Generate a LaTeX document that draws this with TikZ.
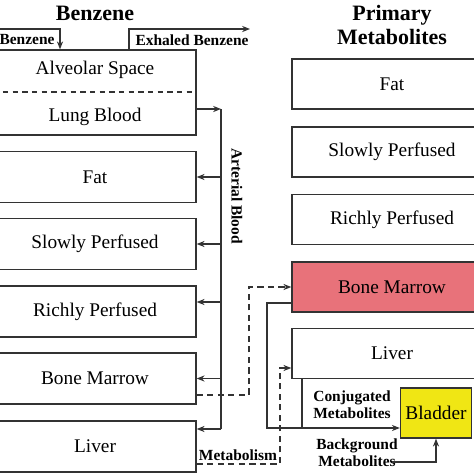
\documentclass[tikz,border=0pt]{standalone}
\usepackage{fontspec}
\setmainfont{Liberation Serif}
\usetikzlibrary{arrows.meta}
\definecolor{marrowpink}{RGB}{232,114,122}
\definecolor{bladderyellow}{RGB}{240,230,20}
\tikzset{
  wire/.style={draw=black!80, line width=0.7pt},
  flow/.style={wire, -{Stealth[length=4.5pt,width=3.5pt]}},
  dflow/.style={flow, dash pattern=on 3.5pt off 2.5pt},
  organ/.style={draw=black!80, line width=0.8pt, inner sep=0pt,
    minimum width=4.04cm, minimum height=1.02cm, font=\fontsize{11}{13}\selectfont},
  pmorgan/.style={organ, minimum width=4cm, minimum height=1cm},
  tag/.style={font=\bfseries\fontsize{8.8}{9.6}\selectfont, inner sep=0pt, align=center},
  heading/.style={font=\bfseries\fontsize{12.5}{13.5}\selectfont, inner sep=0pt, align=center}
}
\begin{document}
\begin{tikzpicture}[x=0.02cm,y=-0.02cm]
    \clip (0,0) rectangle (474,474);
    % titles
    \node[heading] (tBenz) at (95,13) {Benzene};
    \node[heading] (tPrim) at (392,25) {Primary\\Metabolites};
    % benzene side
    \node[organ, minimum height=1.7cm] (lung) at (95,92.5) {};
    \node[font=\fontsize{11}{13}\selectfont] (alvT) at (95,70) {Alveolar Space};
    \node[font=\fontsize{11}{13}\selectfont] (lungT) at (95,117) {Lung Blood};
    \node[organ] (fatL) at (95,177) {Fat};
    \node[organ] (slowL) at (95,244) {Slowly Perfused};
    \node[organ] (richL) at (95,311.5) {Richly Perfused};
    \node[organ] (boneL) at (95,378.5) {Bone Marrow};
    \node[organ] (livL) at (95,446.5) {Liver};
    \draw[wire, dash pattern=on 3pt off 2.5pt] (lung.west |- 0,92) -- (lung.east |- 0,92);
    % primary metabolite side
    \node[pmorgan] (fatR) at (392,84) {Fat};
    \node[pmorgan] (slowR) at (392,152) {Slowly Perfused};
    \node[pmorgan] (richR) at (392,219.5) {Richly Perfused};
    \node[pmorgan, fill=marrowpink] (boneR) at (392,287) {Bone Marrow};
    \node[pmorgan] (livR) at (392,353.5) {Liver};
    \node[pmorgan, fill=bladderyellow, minimum width=1.42cm] (blad) at (436,413) {Bladder};
    % inhaled and exhaled
    \coordinate (inA) at (0,29);
    \coordinate (inB) at (60,29);
    \draw[flow] (inA) -- (inB) -- (inB |- lung.north);
    \node[tag] (inT) at (27,40) {Benzene};
    \coordinate (exA) at (129,29);
    \coordinate (exB) at (250,29);
    \draw[flow] (exA |- lung.north) -- (exA) -- (exB);
    \node[tag] (exT) at (192,40) {Exhaled Benzene};
    % arterial blood
    \coordinate (artTop) at (221,109);
    \coordinate (artBot) at (221,429);
    \draw[flow] (lung.east |- artTop) -- (artTop);
    \draw[wire] (artTop) -- (artBot);
    \draw[flow] (artTop |- fatL.east) -- (fatL.east);
    \draw[flow] (artTop |- slowL.east) -- (slowL.east);
    \draw[flow] (221,302) -- (richL.east |- 0,302);
    \draw[flow] (artTop |- boneL.east) -- (boneL.east);
    \draw[flow] (artBot) -- (livL.east |- artBot);
    \node[tag, rotate=-90] (artT) at (237,196) {Arterial Blood};
    % metabolite transfer
    \draw[dflow] (boneL.east |- 0,395) -- (249,395) -- (249,287) -- (boneR.west);
    \draw[dflow] (livL.east |- 0,464) -- (280,464) -- (280,368) -- (livR.west |- 0,368);
    \node[tag] (metT) at (238,455) {Metabolism};
    % to bladder
    \draw[flow] (boneR.west |- 0,303) -- (267,303) -- (267,428) -- (blad.west |- 0,428);
    \draw[wire] (livR.south -| 302,0) -- (302,428);
    \node[tag] (conjT) at (352,405) {Conjugated\\Metabolites};
    \node[tag] (backT) at (357,453) {Background\\Metabolites};
    \draw[flow] (392,462) -- (blad.south |- 0,462) -- (blad.south);
\end{tikzpicture}
\end{document}
